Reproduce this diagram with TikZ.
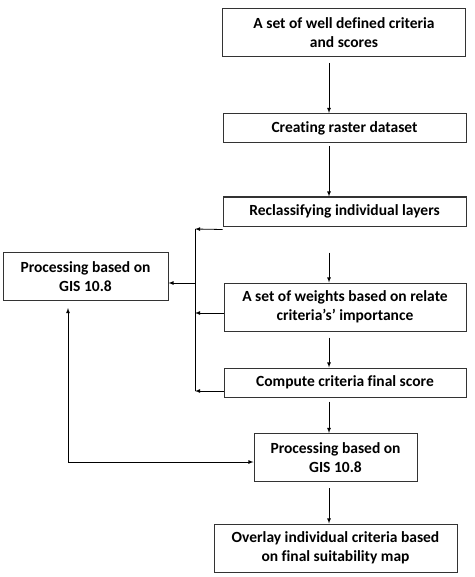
\documentclass[tikz,border=0pt]{standalone}
\usepackage{fontspec}
\setmainfont{Carlito}[Ligatures=NoCommon]
\usetikzlibrary{arrows}
\begin{document}
\begin{tikzpicture}[x=1pt,y=-1pt,font=\fontsize{15.5}{19}\selectfont\bfseries]
    \tikzstyle{proc} = [rectangle, minimum width=243pt, minimum height=29pt, text centered, align=center, inner sep=0pt, draw=black!80, line width=1pt]
    \tikzstyle{proc2} = [proc, minimum height=48pt]
    \tikzstyle{arrow} = [line width=0.8pt,->,>=latex]
    \tikzstyle{arrow2} = [line width=0.8pt,<->,>=latex]
    \useasboundingbox (0,0) rectangle (474,577);
    \node (a) [proc2] at (344, 32.5) {A set of well defined criteria\\and scores};
    \node (b) [proc] at (344.5, 128) {Creating raster dataset};
    \node (c) [proc] at (344.5, 211.5) {Reclassifying individual layers};
    \node (d) [proc2, minimum width=242pt] at (345, 307) {A set of weights based on relate\\criteria’s’ importance};
    \node (e) [proc, minimum width=242pt] at (345, 382.5) {Compute criteria final score};
    \node (f) [proc2, minimum width=163pt] at (335.5, 457.5) {Processing based on\\GIS 10.8};
    \node (g) [proc2] at (335.5, 548) {Overlay individual criteria based\\on final suitability map};
    \node (p) [proc2, minimum width=165pt] at (85.5, 276.5) {Processing based on\\GIS 10.8};
    \coordinate (spine) at (329, 0);
    \coordinate (jtop) at (195, 229);
    \coordinate (jbot) at (195, 391);
    \draw[arrow] ([yshift=-6pt]a.south -| spine) to (b.north -| spine);
    \draw[arrow] ([yshift=-3pt]b.south -| spine) to (c.north -| spine);
    \draw[arrow] ([yshift=-26pt]c.south -| spine) to (d.north -| spine);
    \draw[arrow] ([yshift=-6pt]d.south -| spine) to (e.north -| spine);
    \draw[arrow] ([yshift=-4pt]e.south -| spine) to (f.north -| spine);
    \draw[arrow] ([yshift=-6pt]f.south -| spine) to (g.north -| spine);
    \draw[line width=0.8pt] (jtop) to (jbot);
    \draw[arrow] ([yshift=-3pt]c.south west) to (jtop);
    \draw[arrow] ([yshift=-6pt]d.west) to ([yshift=-6pt]d.west -| jtop);
    \draw[arrow] ([yshift=-8.5pt]e.west) to (jbot);
    \draw[arrow] ([yshift=-6.5pt]p.east -| jtop) to ([yshift=-6.5pt]p.east);
    \draw[arrow2] ([xshift=-17.5pt,yshift=-7pt]p.south) |- ([yshift=-4.5pt]f.west);
\end{tikzpicture}
\end{document}
